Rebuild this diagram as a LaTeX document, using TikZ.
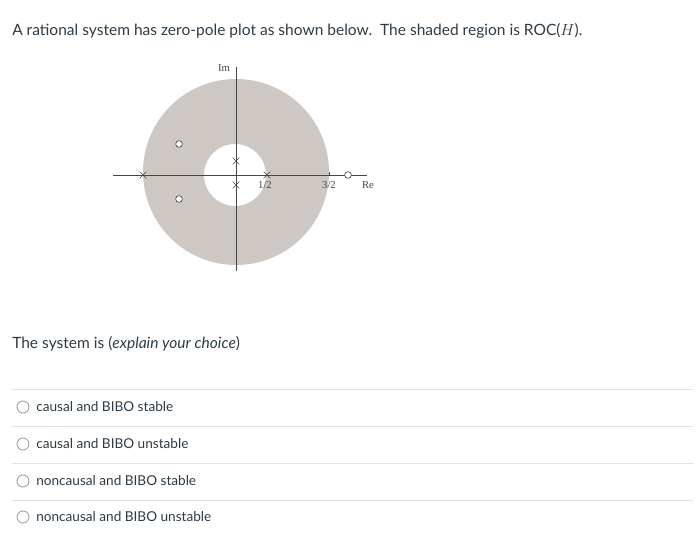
\documentclass[tikz,border=0pt]{standalone}
\usepackage{fontspec}
\setmainfont{Lato}
\newfontfamily\plotfont{Liberation Serif}
\usetikzlibrary{shapes.misc,positioning}
\definecolor{roc}{RGB}{206,200,197}
\definecolor{axis}{RGB}{70,70,70}
\definecolor{rulegray}{RGB}{226,226,226}
\definecolor{txt}{RGB}{45,59,69}

\begin{document}
\begin{tikzpicture}[
    x=0.75pt, y=-0.75pt,
    pole/.style={cross out, draw=axis, minimum size=4.5pt, inner sep=0pt, line width=0.5pt},
    zero/.style={circle, draw=axis, fill=white, minimum size=5pt, inner sep=0pt, line width=0.5pt},
    plotlbl/.style={font=\plotfont\fontsize{8}{9}\selectfont, text=axis, inner sep=0pt},
    question/.style={anchor=west, font=\fontsize{11.65}{14}\selectfont, text=txt, inner sep=0pt},
    option/.style={anchor=west, font=\fontsize{10.2}{12}\selectfont, text=txt, inner sep=0pt},
    radio/.style={circle, draw=gray!80, minimum size=9pt, inner sep=0pt, line width=0.6pt},
    sep/.style={draw=rulegray, line width=0.75pt}
]
    \useasboundingbox (0,0) rectangle (700,555);

    \node[question] (head) at (12,31) {A rational system has zero-pole plot as shown below.\ \ The shaded region is ROC($H$).};

    % region of convergence
    \fill[roc, even odd rule] (236,172) circle (93) (235,175) circle (31);

    % axes
    \coordinate (reL) at (113,175);
    \coordinate (reR) at (367,175);
    \coordinate (imT) at (236,67);
    \coordinate (imB) at (236,271);
    \draw[axis, line width=0.6pt] (reL) -- (reR);
    \draw[axis, line width=0.6pt] (imT) -- (imB);
    \draw[axis, line width=0.5pt] (329,172.5) -- (329,175);

    \node[plotlbl] (im) at (224,68) {Im};
    \node[plotlbl] (half) at (265,185) {1/2};
    \node[plotlbl] (threehalf) at (329,185) {3/2};
    \node[plotlbl] (re) at (368,185) {Re};

    % poles and zeros
    \node[pole] (p1) at (143,175) {};
    \node[pole] (p2) at (236,161) {};
    \node[pole] (p3) at (236,185) {};
    \node[pole] (p4) at (267,175) {};
    \node[zero] (z1) at (179,144) {};
    \node[zero] (z2) at (179,199) {};
    \node[zero] (z3) at (348,175) {};

    \node[question] (ask) at (12,344) {The system is (\textit{explain your choice})};

    % answer choices
    \foreach \y in {390,427,464,501}
        \draw[sep] (12,\y) -- (693,\y);
    \foreach \i/\y/\t in {1/407/causal and BIBO stable, 2/444/causal and BIBO unstable,
                          3/481/noncausal and BIBO stable, 4/517/noncausal and BIBO unstable}
    {
        \node[radio] (rad\i) at (23,\y) {};
        \node[option, right=5pt of rad\i] (opt\i) {\t};
    }
\end{tikzpicture}
\end{document}
